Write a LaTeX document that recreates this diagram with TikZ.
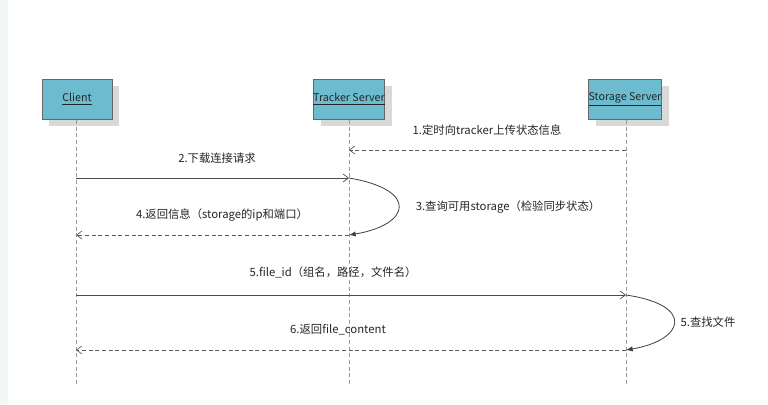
\documentclass[tikz,border=0pt]{standalone}
\usepackage{fontspec}
\setmainfont{Noto Sans CJK SC}
\usetikzlibrary{arrows.meta,shadows}
\definecolor{boxc}{HTML}{6CBBCF}
\begin{document}
\begin{tikzpicture}[x=0.75pt,y=-0.75pt,
  actor/.style={draw=gray!80!black,fill=boxc,minimum width=52.5pt,minimum height=30pt,inner sep=0pt,font=\fontsize{8}{9}\selectfont,text=black!85,
    drop shadow={shadow xshift=5.5pt,shadow yshift=-5.5pt,fill=black!15,opacity=1}},
  life/.style={draw=gray!80,dash pattern=on 3pt off 2pt,line width=0.5pt},
  msg/.style={draw=gray!60!black,line width=0.5pt,-{Straight Barb[length=4pt,width=6pt]}},
  ret/.style={draw=gray!70!black,line width=0.5pt,dash pattern=on 3pt off 2pt,-{Straight Barb[length=4pt,width=6pt]}},
  self/.style={draw=gray!50!black,line width=0.6pt,-{Latex[length=5pt,width=4pt]}},
  lab/.style={font=\fontsize{8.5}{10}\selectfont,text=black!85,inner sep=1pt}]
\useasboundingbox (0,0) rectangle (768,404);
\fill[white] (0,0) rectangle (768,404);
\fill[green!20!gray!8] (0,0) rectangle (8,404);
\coordinate (ce) at (76,385);
\coordinate (te) at (349,385);
\coordinate (se) at (626,385);
\node[actor] (client) at (77,99) {\underline{Client}};
\node[actor] (tracker) at (349,99) {\underline{Tracker Server}};
\node[actor] (storage) at (625,99) {\underline{Storage Server}};
\draw[life] (76,120) -- (ce);
\draw[life] (349,120) -- (te);
\draw[life] (626,120) -- (se);
\coordinate (s1) at (626,150); \coordinate (t1) at (349,150);
\coordinate (c2) at (76,178); \coordinate (t2) at (349,178);
\coordinate (t4) at (349,235); \coordinate (c4) at (76,235);
\coordinate (c5) at (76,295); \coordinate (s5) at (626,295);
\coordinate (s6) at (626,350); \coordinate (c6) at (76,350);
\draw[ret] (s1) -- (t1);
\node[lab] (l1) at (487,130) {1.定时向tracker上传状态信息};
\draw[msg] (c2) -- (t2);
\node[lab] (l2) at (217,158) {2.下载连接请求};
\draw[self] (t2) .. controls (420,190) and (410,225) .. (t4);
\node[lab] (l3) at (508,207) {3.查询可用storage（检验同步状态）};
\draw[ret] (t4) -- (c4);
\node[lab] (l4) at (222,215) {4.返回信息（storage的ip和端口）};
\draw[msg] (c5) -- (s5);
\node[lab] (l5) at (333,272) {5.file\_id（组名，路径，文件名）};
\draw[self] (s5) .. controls (695,305) and (685,340) .. (s6);
\node[lab] (l5b) at (708,322) {5.查找文件};
\draw[ret] (s6) -- (c6);
\node[lab] (l6) at (338,330) {6.返回file\_content};
\end{tikzpicture}
\end{document}
